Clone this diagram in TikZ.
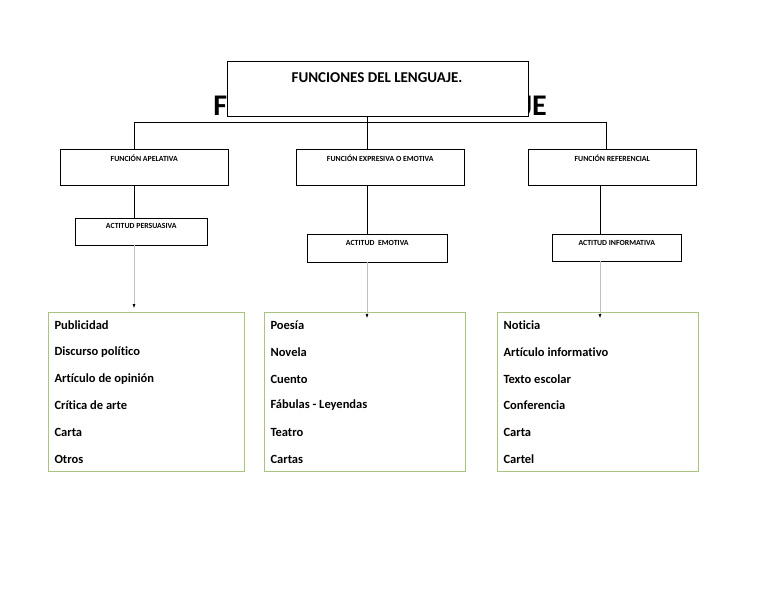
\documentclass[tikz,border=0pt]{standalone}
\usepackage{fontspec}
\setmainfont{Carlito}[Ligatures=NoCommon]
\usetikzlibrary{calc,arrows.meta}
\definecolor{lgreen}{HTML}{A9C47F}
\begin{document}
\begin{tikzpicture}[x=1pt,y=-1pt,
  box/.style={draw,line width=0.6pt,anchor=north west,inner sep=0pt},
  small/.style={font=\bfseries\fontsize{7.8}{9}\selectfont},
  lst/.style={draw=lgreen,line width=1pt,anchor=north west,inner sep=0pt},
  item/.style={anchor=west,font=\bfseries\fontsize{12.5}{14}\selectfont},
  ln/.style={line width=0.6pt},
  gr/.style={draw=gray!50,line width=0.5pt,-{Latex[black,length=4pt,width=3pt]}}]
\useasboundingbox (0,0) rectangle (768,594);
\fill[white] (0,0) rectangle (768,594);
\node[font=\bfseries\fontsize{30}{34}\selectfont] (bg) at (380,106) {FUNCIONES DEL LENGUAJE};
\node[box,fill=white,minimum width=301pt,minimum height=55pt] (t) at (227,61) {};
\node[font=\bfseries\fontsize{15}{17}\selectfont] (tt) at (377,78) {FUNCIONES DEL LENGUAJE.};
\foreach \n/\x/\s in {a/60/FUNCIÓN APELATIVA,e/296/FUNCIÓN EXPRESIVA O EMOTIVA,r/528/FUNCIÓN REFERENCIAL}{
  \node[box,minimum width=168pt,minimum height=36pt] (\n) at (\x,149) {};
  \node[small] at ($(\n.north)+(0,9)$) {\s};
}
\coordinate (ja) at (134,122); \coordinate (jr) at (606,122); \coordinate (je) at (367,122);
\draw[ln] (ja) -- (jr);
\draw[ln] (ja) -- (134,149);
\draw[ln] (jr) -- (606,149);
\draw[ln] (367,116) -- (367,149);
\node[box,minimum width=132pt,minimum height=27pt] (pa) at (75,218) {};
\node[small] at ($(pa.north)+(0,8)$) {ACTITUD PERSUASIVA};
\node[box,minimum width=140pt,minimum height=28pt] (pe) at (307,234) {};
\node[small] at ($(pe.north)+(0,9)$) {ACTITUD\ \ EMOTIVA};
\node[box,minimum width=129pt,minimum height=27pt] (pr) at (552,234) {};
\node[small] at ($(pr.north)+(0,9)$) {ACTITUD INFORMATIVA};
\draw[ln] (134,185) -- (134,218);
\draw[ln] (367,185) -- (367,234);
\draw[ln] (600,185) -- (600,234);
\node[lst,minimum width=196pt,minimum height=159pt] (la) at (48,312) {};
\node[lst,minimum width=201pt,minimum height=159pt] (le) at (264,312) {};
\node[lst,minimum width=201pt,minimum height=159pt] (lr) at (497,312) {};
\draw[gr] (134,245) -- (134,308);
\draw[gr] (367,262) -- (367,318);
\draw[gr] (600,261) -- (600,318);
\foreach \y/\t in {325/Publicidad,352/Discurso político,379/Artículo de opinión,405/Crítica de arte,432/Carta,459/Otros}
  \node[item] at (51,\y) {\t};
\foreach \y/\t in {325/Poesía,352/Novela,379/Cuento,405/Fábulas - Leyendas,432/Teatro,459/Cartas}
  \node[item] at (267,\y) {\t};
\foreach \y/\t in {325/Noticia,352/Artículo informativo,379/Texto escolar,405/Conferencia,432/Carta,459/Cartel}
  \node[item] at (500,\y) {\t};
\end{tikzpicture}
\end{document}
